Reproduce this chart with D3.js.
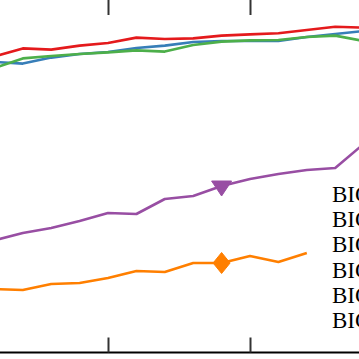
<!DOCTYPE html>
<html><head><meta charset="utf-8">
<script src="https://cdn.jsdelivr.net/npm/d3@7"></script>
<style>html,body{margin:0;padding:0;background:#fff;overflow:hidden}</style>
</head><body>
<svg id="c" width="359" height="359"></svg>
<script>
// data (x index)
const steps = [1,2,3,4,5,6,7,8,9,10,11,12,13,14];
const redVals    = [85.9, 87.9, 87.6, 88.6, 89.25, 90.6, 90.25, 90.4, 91.1, 91.4, 91.7, 92.5, 93.3, 93.1];
const blueVals   = [84.5, 84.1, 85.6, 86.5, 87.0, 88.0, 88.6, 89.5, 89.75, 89.75, 89.75, 90.75, 91.5, 92.25];
const greenVals  = [83.0, 85.4, 86.0, 86.5, 86.9, 87.4, 87.1, 88.75, 89.6, 89.9, 90.0, 90.75, 91.1, 89.75];
const purpleVals = [39.9, 41.75, 43.0, 44.75, 46.75, 46.5, 50.25, 51.0, 53.5, 55.25, 56.5, 57.5, 58.0, 64.0];
const orangeVals = [27.75, 27.5, 29.0, 29.25, 30.5, 32.25, 32.0, 34.25, 34.25, 36.0, 34.5, 36.75];
const xTicks = [0, 5, 10, 15];
const legendLabels = ["BIC", "BIC", "BIC", "BIC", "BIC", "BIC"];

(function(){
const svg = d3.select("#c");
const x = d3.scaleLinear().domain([5, 10]).range([108, 250]);
const y = d3.scaleLinear().domain([0, 100]).range([400, 0]);

const series = [
  {vals: redVals, color: "#e41a1c"},
  {vals: blueVals, color: "#377eb8"},
  {vals: greenVals, color: "#4daf4a"},
  {vals: purpleVals, color: "#984ea3", marker: "tri", at: 9},
  {vals: orangeVals, color: "#ff7f00", marker: "dia", at: 9}
];

const line = d3.line().x(d => x(d[0])).y(d => y(d[1]));
series.forEach(s => {
  const pts = s.vals.map((v, i) => [steps[i], v]);
  svg.append("path").attr("d", line(pts)).attr("fill", "none")
    .attr("stroke", s.color).attr("stroke-width", 2.6).attr("stroke-linejoin", "round");
  if (s.marker) {
    const v = s.vals[steps.indexOf(s.at)];
    const cx = x(s.at), cy = y(v);
    const p = d3.path();
    if (s.marker === "tri") {
      p.moveTo(cx - 10, cy - 5); p.lineTo(cx + 10, cy - 5); p.lineTo(cx, cy + 10); p.closePath();
    } else {
      p.moveTo(cx, cy - 10.5); p.lineTo(cx + 8.5, cy); p.lineTo(cx, cy + 10.5); p.lineTo(cx - 8.5, cy); p.closePath();
    }
    svg.append("path").attr("d", p.toString()).attr("fill", s.color).attr("stroke", s.color).attr("stroke-width", 1);
  }
});

// legend
const lg = svg.append("g");
lg.append("rect").attr("x", 312).attr("y", 180).attr("width", 60).attr("height", 158).attr("fill", "#fff");
legendLabels.forEach((t, i) => {
  lg.append("text").attr("x", 332).attr("y", 202 + i * 25.2)
    .attr("font-family", "Liberation Serif, Times New Roman, serif").attr("font-size", 23)
    .attr("fill", "#000").text(t);
});

// axes
const bottomAxis = svg.append("g").attr("transform", "translate(0,352.5)")
  .call(d3.axisBottom(x).tickValues(xTicks).tickSize(-15).tickFormat(""));
bottomAxis.select(".domain").attr("stroke", "#000").attr("stroke-width", 2).attr("d", "M-10,0H370");
bottomAxis.selectAll(".tick line").attr("stroke", "#333").attr("stroke-width", 2);

const topAxis = svg.append("g").attr("transform", "translate(0,-1)")
  .call(d3.axisTop(x).tickValues(xTicks).tickSize(-16).tickFormat(""));
topAxis.select(".domain").attr("stroke", "#000").attr("stroke-width", 2).attr("d", "M-10,0H370");
topAxis.selectAll(".tick line").attr("stroke", "#333").attr("stroke-width", 2);
})();
</script>
</body></html>
